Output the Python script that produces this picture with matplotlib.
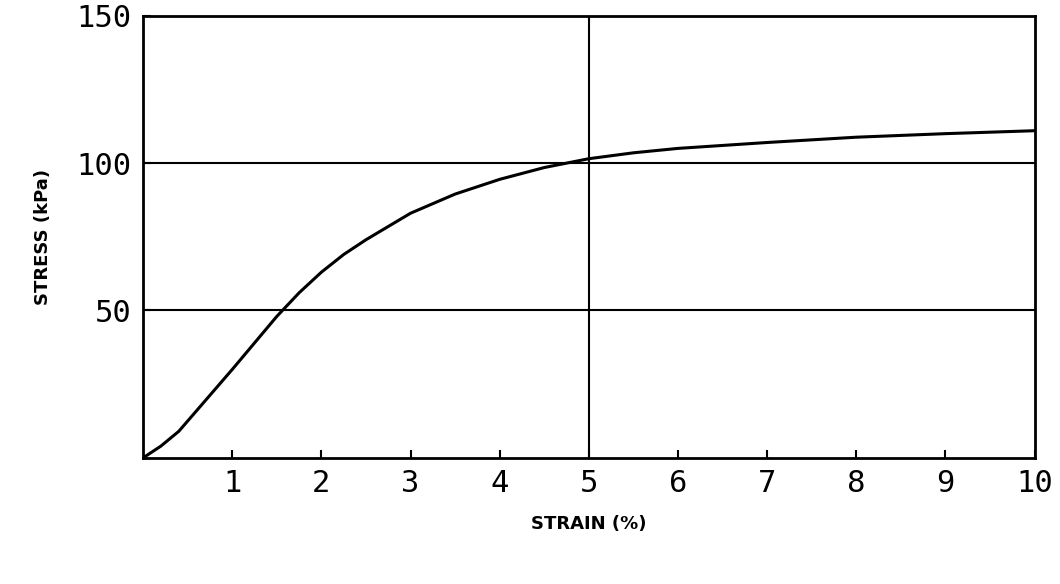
import matplotlib
matplotlib.use("Agg")
import matplotlib.pyplot as plt

strain = [0, 0.2, 0.4, 0.6, 0.8, 1.0, 1.25, 1.5, 1.75, 2.0, 2.25, 2.5, 2.75, 3.0, 3.5, 4.0, 4.5, 5.0, 5.5, 6.0, 7.0, 8.0, 9.0, 10.0]
stress = [0, 4, 9, 16, 23, 30, 39, 48, 56, 63, 69, 74, 78.5, 83, 89.5, 94.5, 98.5, 101.5, 103.5, 105, 107, 108.8, 110, 111]
xticks = [1, 2, 3, 4, 5, 6, 7, 8, 9, 10]
yticks = [50, 100, 150]

fig = plt.figure(figsize=(10.6, 5.84), dpi=100)
ax = fig.add_axes([0.135, 0.216, 0.841, 0.757])
ax.plot(strain, stress, color="black", lw=2.2, solid_joinstyle="round")
ax.set_xlim(0, 10)
ax.set_ylim(0, 150)
for y in [50, 100]:
    ax.axhline(y, color="black", lw=1.5)
ax.axvline(5, color="black", lw=1.5)
for s in ax.spines.values():
    s.set_linewidth(2)
ax.set_xticks(xticks)
ax.set_yticks(yticks)
ax.tick_params(direction="in", length=6, width=1.5, labelsize=22, pad=8)
for lab in ax.get_xticklabels() + ax.get_yticklabels():
    lab.set_fontfamily("DejaVu Sans Mono")
ax.set_xlabel("STRAIN (%)", fontsize=13, fontweight="bold", labelpad=12)
ax.set_ylabel("STRESS (kPa)", fontsize=13, fontweight="bold", labelpad=18)
fig.savefig("out.png", dpi=100)
